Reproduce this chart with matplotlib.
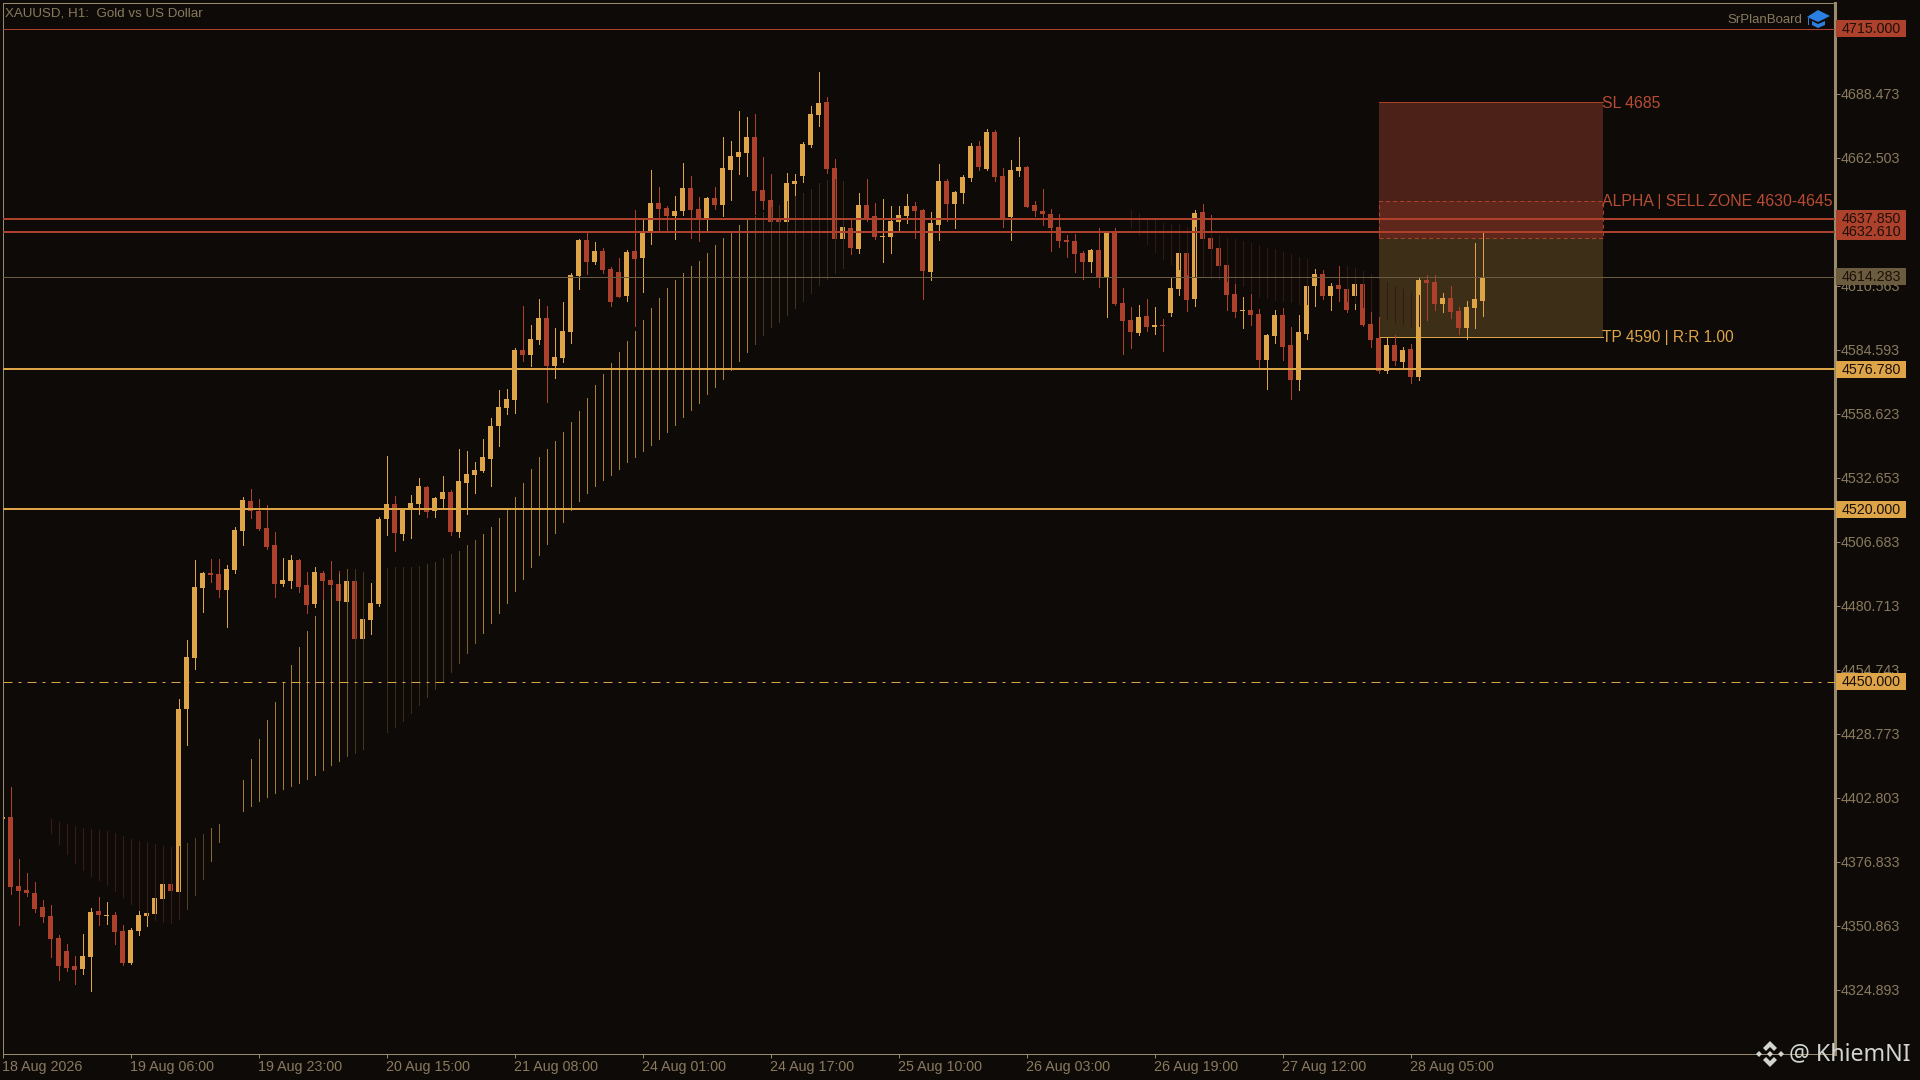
import numpy as np
import matplotlib
matplotlib.use('Agg')
import matplotlib.pyplot as plt
import matplotlib.colors as mcolors
from matplotlib.patches import Polygon, Rectangle
from matplotlib.transforms import Affine2D

# candles, one hour each
open_ = [4394.2,4395.1,4367.1,4365.4,4364.2,4358.5,4354.9,4346.0,4340.7,4334.6,
    4333.4,4338.3,4356.9,4354.9,4355.3,4348.8,4335.8,4348.8,4354.9,4355.7,
    4361.8,4367.9,4364.6,4438.9,4459.6,4488.0,4494.1,4493.7,4487.2,4495.3,
    4511.1,4523.3,4519.2,4512.3,4505.4,4489.6,4490.8,4499.3,4489.2,4481.5,
    4494.1,4491.2,4489.6,4482.3,4490.8,4467.3,4475.0,4481.5,4516.0,4522.1,
    4509.9,4520.5,4522.1,4529.0,4519.2,4524.1,4527.0,4510.7,4530.6,4533.8,
    4535.5,4540.3,4553.7,4561.0,4564.3,4584.6,4582.5,4588.6,4597.5,4578.1,
    4581.3,4591.9,4614.6,4629.2,4620.3,4624.7,4617.4,4616.2,4606.5,4624.7,
    4621.9,4632.0,4644.2,4642.2,4639.0,4641.0,4650.3,4641.8,4638.1,4646.2,
    4643.4,4657.6,4662.9,4664.5,4671.0,4649.5,4645.4,4637.3,4636.5,4651.9,
    4655.2,4667.7,4679.9,4685.2,4658.4,4629.6,4634.1,4625.5,4643.4,4639.0,
    4630.4,4630.4,4636.5,4639.0,4643.0,4641.4,4616.2,4635.3,4653.2,4643.8,
    4648.3,4654.3,4667.3,4658.0,4673.0,4655.2,4638.5,4657.2,4658.8,4643.4,
    4641.0,4639.7,4634.5,4629.2,4628.8,4623.9,4620.3,4625.1,4614.2,4632.0,
    4603.6,4596.7,4591.4,4598.3,4593.9,4594.7,4599.6,4609.3,4623.9,4605.2,
    4640.6,4630.0,4625.9,4619.0,4607.3,4600.4,4600.8,4599.2,4580.5,4590.2,
    4598.7,4586.6,4572.4,4591.0,4610.5,4615.4,4606.5,4610.9,4609.3,4606.5,
    4611.3,4595.1,4589.4,4576.0,4586.6,4579.7,4585.0,4573.6,4613.0,4612.1,
    4603.2,4605.7,4600.4,4593.5,4601.6,4604.4]
close = [4395.1,4366.6,4365.0,4364.2,4357.7,4354.5,4345.6,4334.6,4333.8,4333.0,
    4338.7,4356.5,4355.3,4355.3,4348.4,4335.8,4349.2,4355.3,4356.1,4362.2,
    4367.9,4365.0,4438.9,4460.0,4488.4,4494.1,4493.3,4487.2,4495.7,4511.5,
    4523.7,4519.2,4511.9,4504.6,4489.6,4491.2,4499.3,4488.4,4481.1,4494.5,
    4490.8,4489.2,4482.7,4490.8,4467.3,4475.4,4481.9,4516.0,4522.1,4510.3,
    4520.5,4522.5,4529.4,4518.8,4524.5,4527.0,4510.7,4531.4,4534.2,4535.9,
    4541.1,4553.7,4561.4,4564.7,4584.6,4582.5,4589.0,4597.5,4578.1,4581.7,
    4592.3,4615.0,4629.2,4620.3,4624.7,4617.0,4604.0,4606.1,4624.3,4621.5,
    4632.4,4644.2,4641.8,4639.0,4641.0,4650.3,4641.4,4638.1,4646.2,4643.4,
    4658.4,4663.3,4664.9,4671.0,4649.1,4645.0,4636.5,4636.5,4652.3,4653.2,
    4668.2,4680.3,4684.8,4658.0,4629.6,4634.5,4625.9,4643.4,4637.7,4630.4,
    4630.8,4636.9,4639.3,4643.0,4641.0,4616.6,4636.1,4653.2,4643.8,4648.7,
    4654.7,4667.3,4658.8,4673.0,4654.7,4637.3,4657.6,4658.8,4642.6,4641.0,
    4639.7,4634.1,4628.8,4628.4,4623.5,4620.3,4625.1,4614.2,4632.0,4603.2,
    4596.3,4591.9,4597.9,4593.9,4594.7,4594.3,4609.7,4623.9,4604.8,4640.1,
    4629.6,4625.5,4618.6,4606.9,4600.0,4600.8,4598.7,4580.5,4590.6,4598.7,
    4585.8,4572.4,4591.9,4610.5,4615.4,4606.5,4610.5,4609.3,4600.8,4611.3,
    4594.7,4588.6,4576.0,4586.6,4580.1,4584.6,4573.6,4613.0,4611.7,4603.2,
    4605.7,4600.0,4593.5,4602.0,4605.2,4614.3]
high = [4395.9,4407.2,4378.0,4372.3,4368.7,4361.4,4359.4,4347.2,4343.5,4338.7,
    4347.6,4358.1,4362.6,4360.6,4356.5,4351.2,4350.0,4357.7,4356.1,4362.2,
    4367.9,4367.9,4442.9,4466.9,4499.3,4494.5,4499.7,4499.7,4497.3,4512.7,
    4524.9,4528.2,4524.1,4521.7,4510.7,4500.2,4501.4,4499.7,4494.5,4496.5,
    4494.9,4498.9,4494.9,4495.7,4490.8,4475.4,4490.0,4516.8,4541.6,4525.3,
    4520.5,4525.7,4532.6,4529.4,4524.9,4533.4,4527.8,4544.4,4543.6,4539.1,
    4548.4,4557.0,4568.3,4568.7,4585.4,4602.4,4594.7,4605.2,4602.4,4593.5,
    4604.0,4615.8,4629.6,4632.4,4628.4,4625.9,4618.2,4621.9,4625.1,4641.4,
    4637.7,4657.6,4650.7,4643.0,4647.0,4660.4,4655.2,4646.6,4646.6,4650.7,
    4671.0,4669.4,4681.5,4679.1,4680.3,4662.9,4656.0,4637.3,4656.4,4656.0,
    4669.0,4683.6,4697.4,4687.2,4662.1,4634.5,4637.7,4648.3,4654.0,4644.2,
    4645.8,4643.0,4643.0,4647.8,4644.6,4641.8,4640.6,4660.0,4654.0,4649.1,
    4655.6,4668.6,4669.4,4674.2,4673.8,4658.4,4661.6,4671.0,4659.2,4645.0,
    4649.9,4641.8,4639.7,4631.2,4631.6,4624.7,4625.5,4634.1,4632.4,4634.1,
    4609.7,4602.0,4602.8,4605.2,4602.0,4597.1,4613.8,4623.9,4623.9,4641.4,
    4643.8,4639.3,4625.9,4619.0,4611.7,4606.1,4607.3,4601.2,4591.0,4600.8,
    4601.6,4593.9,4598.7,4610.5,4617.4,4617.0,4611.7,4618.6,4609.3,4611.3,
    4611.3,4600.4,4598.3,4589.8,4590.6,4585.8,4587.0,4613.8,4615.0,4615.0,
    4607.7,4610.5,4602.0,4604.4,4628.0,4632.4]
low = [4393.4,4363.8,4351.2,4363.0,4356.5,4352.4,4338.3,4328.9,4332.6,4327.3,
    4331.4,4324.4,4351.2,4351.6,4343.5,4335.0,4335.4,4347.2,4350.8,4353.3,
    4361.8,4365.0,4364.6,4424.3,4455.1,4478.2,4490.4,4484.3,4472.2,4494.1,
    4505.4,4516.4,4511.5,4503.8,4484.3,4488.8,4488.0,4486.4,4477.8,4480.3,
    4483.5,4487.2,4482.7,4482.3,4467.3,4467.3,4469.3,4480.7,4509.5,4503.0,
    4507.5,4508.3,4518.0,4516.8,4516.8,4520.9,4509.5,4508.7,4518.0,4526.5,
    4535.1,4529.4,4545.6,4558.6,4559.0,4580.1,4578.1,4587.0,4563.4,4573.2,
    4579.7,4587.4,4609.3,4615.4,4619.4,4615.8,4602.4,4606.1,4604.4,4594.3,
    4608.1,4627.6,4633.2,4633.2,4629.6,4639.3,4630.0,4628.8,4633.2,4641.8,
    4639.0,4645.4,4656.0,4655.2,4639.7,4641.8,4636.5,4636.5,4636.5,4647.0,
    4652.8,4667.0,4675.4,4656.4,4629.6,4629.6,4623.5,4623.9,4636.9,4629.6,
    4620.3,4623.9,4633.2,4636.1,4630.0,4605.2,4613.0,4629.2,4636.9,4634.1,
    4644.2,4653.2,4657.6,4657.6,4653.2,4634.5,4629.2,4655.2,4642.6,4639.0,
    4635.3,4624.7,4626.3,4622.3,4616.2,4613.4,4616.2,4610.1,4597.9,4602.8,
    4582.9,4585.4,4590.6,4592.3,4591.0,4584.1,4598.3,4606.9,4600.4,4602.4,
    4629.6,4625.5,4618.6,4600.8,4597.9,4593.5,4594.7,4577.6,4568.7,4587.4,
    4580.5,4564.7,4568.3,4589.0,4602.4,4605.2,4600.8,4604.4,4600.0,4601.2,
    4594.3,4585.8,4575.2,4575.2,4578.5,4577.6,4571.2,4572.4,4596.7,4600.8,
    4600.0,4597.5,4591.0,4589.0,4593.5,4598.3]

# cloud indicator, only on these bars
band_bars = [*range(6, 28), *range(30, 46), *range(48, 106), *range(141, 164), *range(168, 178)]
band_hi = [4394.2,4393.0,4392.2,4391.4,4390.6,4390.2,4389.8,4389.4,4388.6,4387.4,4386.1,
    4385.3,4384.9,4384.1,4383.3,4382.9,4383.3,4384.5,4386.5,4388.2,4390.6,4392.2,
    4410.1,4418.6,4426.7,4434.4,4441.7,4449.4,4456.7,4464.0,4470.5,4476.6,4483.1,4488.0,
    4493.7,4495.7,4495.7,4494.5,
    4496.1,4496.5,4496.5,4496.5,4496.9,4497.7,4498.5,4500.2,4501.8,4503.0,4505.4,4507.5,
    4509.9,4512.7,4516.4,4520.5,4524.9,4530.6,4536.3,4541.1,4544.4,4547.6,
    4551.3,4555.4,4559.8,4565.1,4570.3,4574.8,4579.3,4583.8,4588.2,4592.3,
    4596.7,4601.6,4605.7,4609.7,4613.0,4615.8,4618.6,4620.7,4623.9,4627.2,
    4630.0,4632.8,4635.3,4637.7,4639.0,4640.6,4642.6,4643.4,4645.0,4647.0,
    4648.3,4649.9,4652.3,4653.5,4654.0,4653.2,
    4641.4,4640.1,4637.7,4637.3,4636.1,4635.7,4635.7,4634.5,4634.5,4633.2,4632.4,4631.2,
    4630.0,4629.6,4628.8,4628.0,4627.2,4625.9,4625.5,4624.3,4623.5,4622.3,4621.5,
    4618.6,4617.8,4616.6,4615.4,4613.4,4612.1,4610.5,4609.3,4607.7,4606.9]
band_lo = [4388.6,4384.1,4380.1,4376.4,4373.6,4371.1,4369.5,4367.5,4365.0,4362.6,4359.8,
    4357.3,4355.3,4353.3,4352.4,4352.0,4353.7,4357.7,4363.4,4369.9,4377.2,4384.9,
    4397.5,4399.5,4401.6,4403.2,4404.8,4406.4,4407.6,4408.9,4410.5,4412.1,4414.1,4416.2,
    4417.8,4419.8,4421.0,4422.7,
    4429.5,4431.6,4434.0,4437.3,4440.5,4443.7,4447.0,4450.2,4453.9,4457.5,4461.6,4465.7,
    4469.7,4473.8,4477.8,4481.9,4486.8,4491.6,4496.5,4501.4,4505.8,4510.3,
    4514.8,4519.6,4523.3,4526.5,4529.4,4531.8,4533.8,4536.3,4539.1,4541.1,
    4543.6,4546.0,4548.4,4551.3,4554.1,4557.4,4560.2,4563.0,4566.7,4569.5,
    4572.8,4576.4,4580.1,4583.8,4587.0,4590.6,4593.9,4595.9,4598.7,4601.6,
    4604.4,4607.7,4610.9,4613.4,4615.8,4617.8,
    4634.5,4631.2,4627.6,4624.3,4621.5,4619.4,4617.4,4615.4,4614.6,4614.2,4613.8,4613.4,
    4612.5,4611.7,4610.5,4608.1,4606.1,4605.7,4604.8,4604.4,4604.0,4603.2,4603.2,
    4604.4,4603.6,4602.0,4600.4,4598.3,4597.1,4595.9,4595.1,4593.9,4594.3]
# (first bar, last bar, strength) of the cloud colour, red before bar 23 and from bar 141
band_fade = [(6, 22, 0.3), (23, 25, 0.35), (26, 27, 0.6), (30, 42, 0.72), (43, 43, 0.5), (44, 45, 0.28),
    (48, 52, 0.22), (53, 56, 0.3), (57, 57, 0.4), (58, 59, 0.55), (60, 93, 0.75), (94, 94, 0.38),
    (95, 99, 0.28), (100, 105, 0.2), (141, 163, 0.25), (168, 177, 0.25)]

time_ticks = [0, 16, 32, 48, 64, 80, 96, 112, 128, 144, 160, 176]
time_labels = ['18 Aug 2026', '19 Aug 06:00', '19 Aug 23:00', '20 Aug 15:00', '21 Aug 08:00', '24 Aug 01:00',
    '24 Aug 17:00', '25 Aug 10:00', '26 Aug 03:00', '26 Aug 19:00', '27 Aug 12:00', '28 Aug 05:00']
price_ticks = [4688.473, 4662.503, 4636.533, 4610.563, 4584.593, 4558.623, 4532.653, 4506.683,
    4480.713, 4454.743, 4428.773, 4402.803, 4376.833, 4350.863, 4324.893]

sl_price = 4685
zone_top = 4645
zone_bottom = 4630
tp_price = 4590
box_start = 172
box_end = 200
red_lines = [4715.0, 4637.85, 4632.61]
gold_lines = [4576.78, 4520.0]
dash_line = 4450.0
bid_price = 4614.283

bg = '#0d0a08'
red = '#ae412c'
red_text = '#b84c33'
gold = '#dda548'
grid_col = '#9a8a6c'
label_col = '#8a7a5e'
bid_col = '#6b5c3f'
tag_text = '#1c1008'

plt.rcParams['font.family'] = ['Liberation Sans', 'DejaVu Sans']
plt.rcParams['lines.scale_dashes'] = False

fig = plt.figure(figsize=(19.2, 10.8), dpi=100, facecolor=bg)
ax = fig.add_axes([2.5/1920, 26.5/1080, 1832/1920, 1051/1080], facecolor=bg)
ax.set_xlim(0, 229)
ax.set_ylim(4299.09, 4725.55)

# trade boxes sit behind the candles
ax.fill_between([box_start, box_end], zone_bottom, sl_price, color='#4c2118', lw=0, zorder=1)
ax.fill_between([box_start, box_end], tp_price, zone_bottom, color='#3d2e17', lw=0, zorder=1)
ax.fill_between([box_start, box_end], zone_bottom, zone_top, color='#5f261c', lw=0, zorder=1.1)
ax.plot([box_start, box_end], [sl_price, sl_price], color=red, lw=0.72, zorder=1.2)
ax.plot([box_start, box_end], [tp_price, tp_price], color=gold, lw=0.72, zorder=1.2)
ax.add_patch(Rectangle((box_start, zone_bottom), box_end-box_start, zone_top-zone_bottom, fill=False,
    ec=red, lw=0.72, linestyle=(0, (2.9, 2.2)), zorder=1.2))

# candles
bars = np.arange(len(open_))
o = np.array(open_)
c = np.array(close)
cols = [gold if c[i] >= o[i] else red for i in bars]
ax.vlines(bars, low, high, colors=cols, linewidth=0.72, antialiased=False, capstyle='butt', zorder=2)
ax.bar(bars, np.abs(c-o), bottom=np.minimum(o, c), width=0.625, color=cols, linewidth=0, antialiased=False, zorder=2.1)

# cloud goes over the candles, colours fade towards the background
bg_rgb = np.array(mcolors.to_rgb(bg))
band_cols = []
for b in band_bars:
    base = np.array(mcolors.to_rgb(red if b < 23 or b >= 141 else gold))
    fade = [f for first, last, f in band_fade if first <= b <= last][0]
    band_cols.append(tuple(bg_rgb + (base-bg_rgb)*fade))
ax.vlines(band_bars, band_lo, band_hi, colors=band_cols, linewidth=0.72, antialiased=False, capstyle='butt', zorder=2.5)

# horizontal levels, the thick ones are two pixels high
ax.hlines(red_lines[0], 0, 229, color=red, linewidth=0.72, antialiased=False, zorder=3)
ax.barh(red_lines[1:], 229, height=0.81, color=red, linewidth=0, antialiased=False, zorder=3)
ax.barh(gold_lines, 229, height=0.81, color=gold, linewidth=0, antialiased=False, zorder=3)
ax.hlines(bid_price, 0, 229, color=bid_col, linewidth=0.72, antialiased=False, zorder=3)
ax.plot([0, 229], [dash_line, dash_line], color=gold, lw=0.72, linestyle=(0, (6.48, 4.32, 2.16, 4.32)), zorder=3)

# box labels
ax.text(200.0, sl_price-0.4, 'SL 4685', color=red_text, fontsize=11.4, va='center', ha='left', zorder=4)
ax.text(200.0, zone_top-0.2, 'ALPHA | SELL ZONE 4630-4645', color=red_text, fontsize=11.4, va='center', ha='left', zorder=4)
ax.text(200.0, tp_price-0.4, 'TP 4590 | R:R 1.00', color=gold, fontsize=11.2, va='center', ha='left', zorder=4)

# axis frame and ticks
for side, lw in [('left', 0.72), ('top', 0.72), ('bottom', 0.72), ('right', 2.2)]:
    ax.spines[side].set_color(grid_col)
    ax.spines[side].set_linewidth(lw)
ax.yaxis.tick_right()
ax.set_yticks(price_ticks)
ax.set_yticklabels(['%.3f' % p for p in price_ticks], color=label_col, fontsize=10.3)
ax.tick_params(axis='y', length=3.4, width=0.72, color=grid_col, pad=1.0)
ax.set_xticks(time_ticks)
ax.set_xticklabels(time_labels, color=label_col, fontsize=10.3, ha='left')
ax.tick_params(axis='x', length=3, width=0.72, color=grid_col, pad=1.8)

# price tags on the axis
ytrans = ax.get_yaxis_transform()
tags = [(4715.0, red), (4637.85, red), (4632.61, red), (bid_price, bid_col), (4576.78, gold), (4520.0, gold), (dash_line, gold)]
for price, col in tags:
    ax.add_patch(Rectangle((1.0008, price-3.45), 0.0382, 6.9, transform=ytrans, color=col, lw=0, clip_on=False, zorder=5))
    ax.text(1.0039, price-0.3, '%.3f' % price, transform=ytrans, color=tag_text, fontsize=10.3, va='center', ha='left', zorder=6, clip_on=False)

ax.text(0.0013, 4720.9, 'XAUUSD, H1:  Gold vs US Dollar', color=label_col, fontsize=9.65, va='center', ha='left', transform=ytrans, zorder=6)
ax.text(0.9825, 4718.4, 'SrPlanBoard', color=label_col, fontsize=9.5, va='center', ha='right', transform=ytrans, zorder=6)

# small logos, drawn in image pixels
px = Affine2D().scale(1, -1).translate(0, 1080)
def icon(points, col):
    fig.add_artist(Polygon(points, closed=True, transform=px, fc=col, ec='none'))

blue = '#2a7fe0'
icon([(1807, 17), (1818, 10), (1830, 16), (1818, 22)], blue)
icon([(1812, 21), (1818, 24), (1825, 21), (1825, 25), (1818, 28), (1812, 25)], blue)
icon([(1808, 18), (1809, 18), (1809, 25), (1808, 25)], blue)

white = '#d2d4d0'
cx, cy = 1770, 1054
for dx in (-11, 0, 11):
    icon([(cx+dx-3, cy), (cx+dx, cy-3), (cx+dx+3, cy), (cx+dx, cy+3)], white)
icon([(cx-7, cy-6), (cx, cy-13), (cx+7, cy-6), (cx+4, cy-3), (cx, cy-7), (cx-4, cy-3)], white)
icon([(cx-7, cy+6), (cx, cy+13), (cx+7, cy+6), (cx+4, cy+3), (cx, cy+7), (cx-4, cy+3)], white)
fig.text(1789/1920, 1-1054/1080, '@ KhiemNI', color=white, fontsize=16.7, va='center', ha='left', family='Noto Sans', zorder=10)

fig.savefig('out.png', dpi=100, facecolor=bg)
